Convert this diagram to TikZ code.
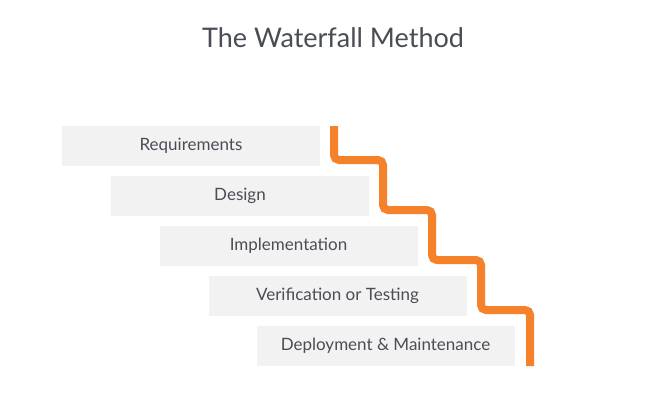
\documentclass[tikz,border=0pt]{standalone}
\usepackage{fontspec}
\setmainfont{Lato}
\definecolor{boxc}{HTML}{F2F2F2}
\definecolor{txt}{HTML}{4A4D55}
\definecolor{orng}{HTML}{F5822A}
\begin{document}
\begin{tikzpicture}[x=1pt,y=-1pt,
  stage/.style={fill=boxc,minimum width=258pt,minimum height=40pt,inner sep=0pt,text=txt,font=\fontsize{17}{20}\selectfont}]
\useasboundingbox[fill=white] (0,0) rectangle (668,418);
\node[text=txt,font=\fontsize{27}{32}\selectfont] (title) at (333,38) {The Waterfall Method};
\node[stage] (r) at (191,146) {Requirements};
\node[stage] (d) at (240,196) {Design};
\node[stage] (i) at (288.5,246) {Implementation};
\node[stage] (v) at (337.5,296) {Verification or Testing};
\node[stage] (m) at (385.5,346) {Deployment \& Maintenance};
\coordinate (s) at (334,126);
\coordinate (e) at (530,366);
\draw[orng,line width=8pt,rounded corners=5pt] (s) -- (334,160) -- (383,160) -- (383,210) -- (432,210) -- (432,260) -- (481,260) -- (481,310) -- (530,310) -- (e);
\end{tikzpicture}
\end{document}
